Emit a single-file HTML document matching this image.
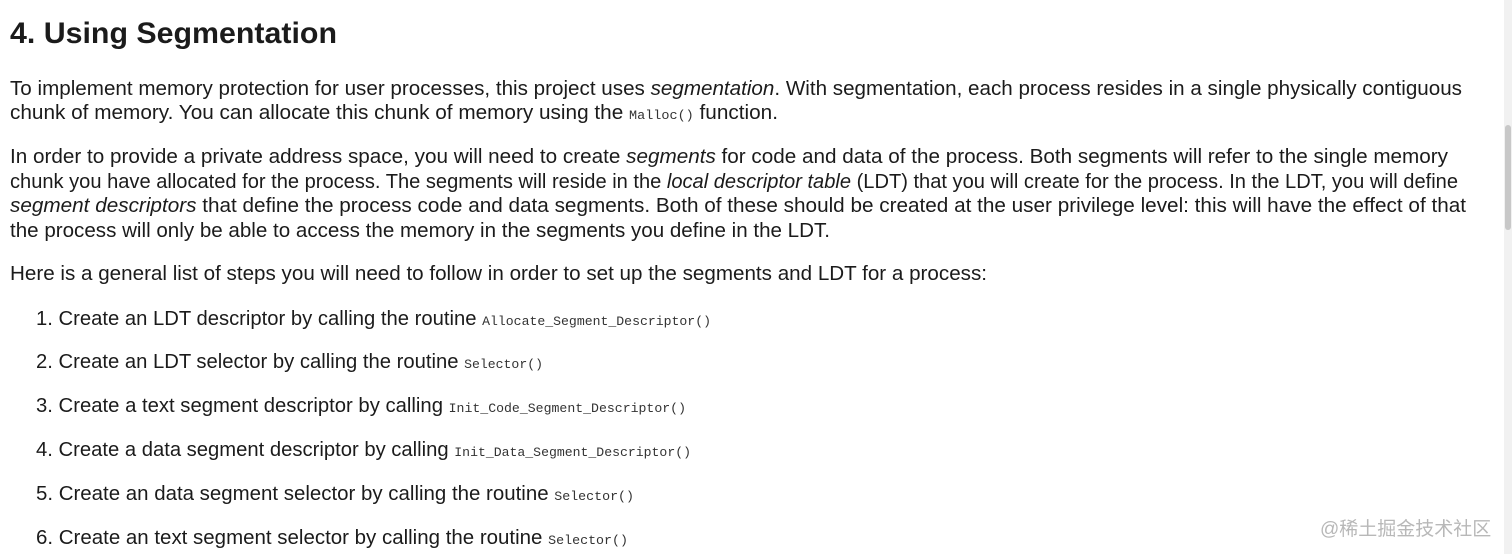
<!DOCTYPE html>
<html><head><meta charset="utf-8"><style>
html,body{margin:0;padding:0;background:#fff;}
body{width:1512px;height:554px;position:relative;overflow:hidden;font-family:"Liberation Sans","Noto Sans CJK SC",sans-serif;color:#1b1b1b;}
.l{position:absolute;white-space:nowrap;font-size:20px;line-height:24px;transform-origin:0 50%;}
.m{font-family:"Liberation Mono",monospace;font-size:13px;color:#333;}
h1{position:absolute;left:10px;top:14px;margin:0;font-size:30px;line-height:40px;font-weight:bold;white-space:nowrap;transform-origin:0 50%;}
.sb{position:absolute;right:0;top:0;width:8px;height:554px;background:#f1f1f1;}
.th{position:absolute;right:1px;top:125px;width:6px;height:105px;background:#c8c8c8;border-radius:3px;}
.wm{position:absolute;left:1320px;top:514px;font-size:19px;color:#b8b8b8;white-space:nowrap;}
</style></head><body>
<h1 style="--w:327">4. Using Segmentation</h1>
<div class="l" style="left:10px;top:77px;--w:1452">To implement memory protection for user processes, this project uses <i>segmentation</i>. With segmentation, each process resides in a single physically contiguous</div>
<div class="l" style="left:10px;top:101px;--w:768">chunk of memory. You can allocate this chunk of memory using the <span class="m">Malloc()</span> function.</div>
<div class="l" style="left:10px;top:145px;--w:1438">In order to provide a private address space, you will need to create <i>segments</i> for code and data of the process. Both segments will refer to the single memory</div>
<div class="l" style="left:10px;top:170px;--w:1448">chunk you have allocated for the process. The segments will reside in the <i>local descriptor table</i> (LDT) that you will create for the process. In the LDT, you will define</div>
<div class="l" style="left:10px;top:194px;--w:1456"><i>segment descriptors</i> that define the process code and data segments. Both of these should be created at the user privilege level: this will have the effect of that</div>
<div class="l" style="left:10px;top:219px;--w:820">the process will only be able to access the memory in the segments you define in the LDT.</div>
<div class="l" style="left:10px;top:262px;--w:977">Here is a general list of steps you will need to follow in order to set up the segments and LDT for a process:</div>
<div class="l" style="left:36px;top:307px;--w:675">1. Create an LDT descriptor by calling the routine <span class="m">Allocate_Segment_Descriptor()</span></div>
<div class="l" style="left:36px;top:350px;--w:507">2. Create an LDT selector by calling the routine <span class="m">Selector()</span></div>
<div class="l" style="left:36px;top:394px;--w:650">3. Create a text segment descriptor by calling <span class="m">Init_Code_Segment_Descriptor()</span></div>
<div class="l" style="left:36px;top:438px;--w:655">4. Create a data segment descriptor by calling <span class="m">Init_Data_Segment_Descriptor()</span></div>
<div class="l" style="left:36px;top:482px;--w:598">5. Create an data segment selector by calling the routine <span class="m">Selector()</span></div>
<div class="l" style="left:36px;top:526px;--w:592">6. Create an text segment selector by calling the routine <span class="m">Selector()</span></div>
<div class="wm">@稀土掘金技术社区</div>
<div class="sb"><div class="th"></div></div>
<script>
document.querySelectorAll('.l,h1').forEach(function(e){
var w=parseFloat(getComputedStyle(e).getPropertyValue('--w'));
var r=e.getBoundingClientRect().width;
if(w&&r)e.style.transform='scaleX('+(w/r)+')';
});
</script>
</body></html>
